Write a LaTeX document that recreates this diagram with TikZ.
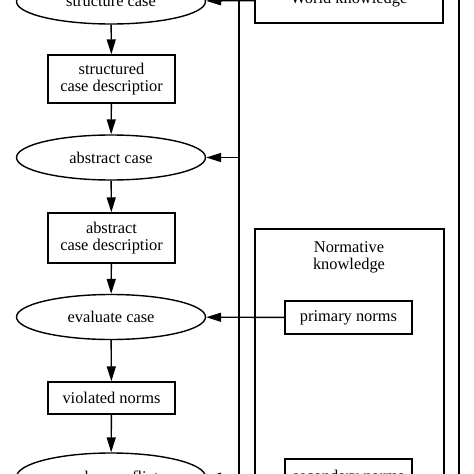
\documentclass[tikz,border=0pt]{standalone}
\usepackage{fontspec}
\setmainfont{Liberation Serif}
\usetikzlibrary{shapes.geometric,arrows.meta}

\begin{document}
\begin{tikzpicture}[x=1pt, y=-1pt, line width=1.4pt,
  procnode/.style={ellipse, draw, minimum width=189pt, minimum height=45pt, inner sep=0pt},
  datanode/.style={rectangle, draw, minimum width=127pt, inner sep=0pt, align=center},
  clusternode/.style={rectangle, draw, line width=1.3pt, inner sep=0pt},
  arr/.style={-{Triangle[length=15pt, width=9pt]}},
  font=\fontsize{16.4}{17}\selectfont]
\useasboundingbox (0,0) rectangle (474,474);
\clip (0,0) rectangle (474,474);
\node[clusternode, minimum width=220pt, minimum height=560pt] at (349.0, 240.0) (knowledge) {};
\node[clusternode, minimum width=189pt, minimum height=291pt] at (349.5, 374.5) (normative) {};
\node[align=center, inner sep=0pt] at (349.0, 257.0) (normlabel) {Normative\\knowledge};
\node[datanode, minimum width=188pt, minimum height=46pt] at (349.0, 0.0) (world) {World knowledge};
\node[datanode, minimum height=33pt] at (348.5, 317.5) (primary) {primary norms};
\node[datanode, minimum height=37pt] at (348.5, 477.5) (secondary) {secondary norms};
\node[procnode] at (111.0, 1.5) (structure) {structure case};
\draw[arr] (world) -- (structure);
\node[datanode, minimum height=48pt] at (111.5, 79.0) (structdesc) {structured\\case descriptior};
\draw[arr] (structure) -- (structdesc);
\node[procnode] at (111.0, 157.5) (abstract) {abstract case};
\draw[arr] (structdesc) -- (abstract);
\draw[arr] (knowledge.west |- abstract) -- (abstract);
\node[datanode, minimum height=50pt] at (111.5, 238.0) (abstdesc) {abstract\\case descriptior};
\draw[arr] (abstract) -- (abstdesc);
\node[procnode] at (111.0, 317.0) (evaluate) {evaluate case};
\draw[arr] (abstdesc) -- (evaluate);
\draw[arr] (primary) -- (evaluate);
\node[datanode, minimum height=32pt] at (111.5, 398.0) (violated) {violated norms};
\draw[arr] (evaluate) -- (violated);
\node[procnode, minimum height=48pt] at (111.0, 477.0) (resolve) {resolve conflicts};
\draw[arr] (violated) -- (resolve);
\draw[arr] (secondary) -- (resolve);
\end{tikzpicture}
\end{document}
